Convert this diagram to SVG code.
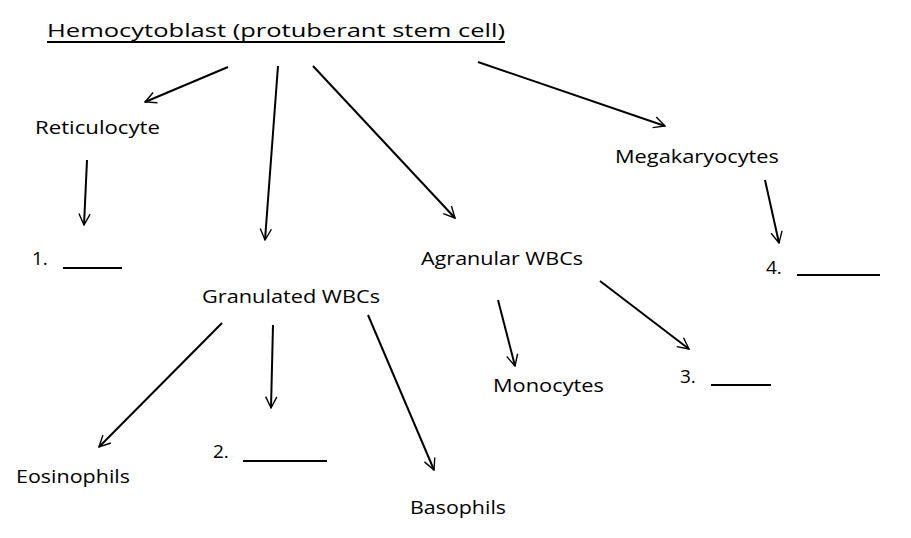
<svg xmlns="http://www.w3.org/2000/svg" width="911" height="538" viewBox="0 0 911 538">
<style>
text{font-family:"Open Sans","Liberation Sans",sans-serif;font-size:19px;fill:#000}
.c line{stroke:#000;stroke-width:2;fill:none;marker-end:url(#a)}
.b{stroke:#000;stroke-width:1.8}
</style>
<defs><marker id="a" viewBox="0 0 20 20" refX="18" refY="10" markerWidth="14" markerHeight="14" markerUnits="userSpaceOnUse" orient="auto"><path d="M2,2 L18,10 L2,18" fill="none" stroke="#000" stroke-width="2"/></marker></defs>
<rect width="911" height="538" fill="#fff"/>
<g id="title"><text x="47" y="37" font-size="22" textLength="458" lengthAdjust="spacingAndGlyphs">Hemocytoblast (protuberant stem cell)</text><line class="b" x1="47" y1="42" x2="505" y2="42"/></g>
<g id="reticulocyte"><text x="35" y="134" textLength="125" lengthAdjust="spacingAndGlyphs">Reticulocyte</text></g>
<g id="megakaryocytes"><text x="615" y="163" textLength="164" lengthAdjust="spacingAndGlyphs">Megakaryocytes</text></g>
<g id="agranular"><text x="421" y="265" textLength="162" lengthAdjust="spacingAndGlyphs">Agranular WBCs</text></g>
<g id="granulated"><text x="202" y="303" textLength="178" lengthAdjust="spacingAndGlyphs">Granulated WBCs</text></g>
<g id="monocytes"><text x="493" y="392" textLength="111" lengthAdjust="spacingAndGlyphs">Monocytes</text></g>
<g id="eosinophils"><text x="16" y="483" textLength="114" lengthAdjust="spacingAndGlyphs">Eosinophils</text></g>
<g id="basophils"><text x="410" y="514" textLength="96" lengthAdjust="spacingAndGlyphs">Basophils</text></g>
<g id="blank1"><text x="32" y="265">1.</text><line class="b" x1="63" y1="268" x2="122" y2="268"/></g>
<g id="blank2"><text x="213" y="458">2.</text><line class="b" x1="243" y1="461" x2="327" y2="461"/></g>
<g id="blank3"><text x="680" y="383">3.</text><line class="b" x1="711" y1="385" x2="771" y2="385"/></g>
<g id="blank4"><text x="766" y="274">4.</text><line class="b" x1="797" y1="275" x2="880" y2="275"/></g>
<g class="c" id="connectors">
<line x1="228" y1="67" x2="145" y2="102"/>
<line x1="278" y1="66" x2="265" y2="240"/>
<line x1="313" y1="66" x2="455" y2="218"/>
<line x1="478" y1="62" x2="665" y2="126"/>
<line x1="87" y1="160" x2="84" y2="225"/>
<line x1="765" y1="180" x2="779" y2="243"/>
<line x1="222" y1="323" x2="99" y2="447"/>
<line x1="273" y1="325" x2="271" y2="408"/>
<line x1="368" y1="315" x2="434" y2="470"/>
<line x1="498" y1="300" x2="515" y2="366"/>
<line x1="600" y1="281" x2="689" y2="349"/>
</g>
</svg>
